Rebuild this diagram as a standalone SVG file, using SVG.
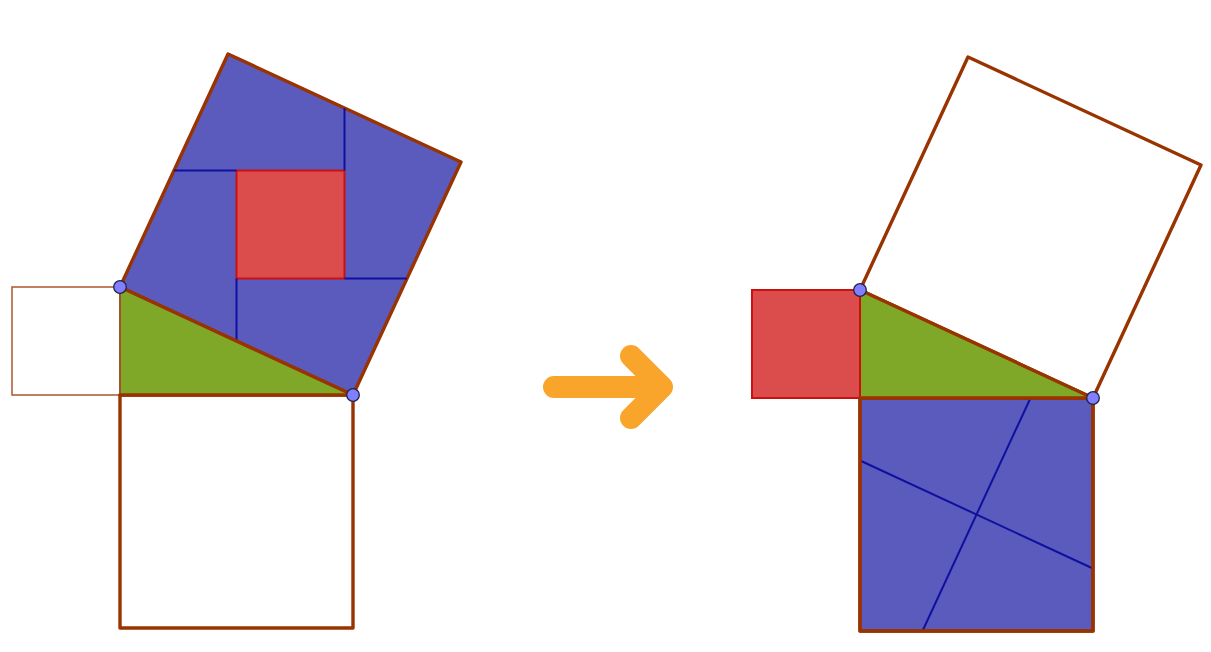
<svg xmlns="http://www.w3.org/2000/svg" width="1211" height="652" viewBox="0 0 1211 652">
<style>
.sq{stroke:#993300;stroke-width:3.4;stroke-linejoin:round}
.thin{fill:none;stroke:#B0603A;stroke-width:1.6}
.blue{fill:#5B5BBD}
.white{fill:#FFFFFF}
.red{fill:#DB4D4D;stroke:#CC1010;stroke-width:2}
.tri{fill:#7FA828;stroke:none}
.edge{stroke:#993300;stroke-width:3.4;stroke-linecap:round;fill:none}
.cut{stroke:#1010A0;stroke-width:2;fill:none}
.pt{fill:#7F7FFF;stroke:#222244;stroke-width:1.3}
.arrow{fill:none;stroke:#F9A52C;stroke-width:22;stroke-linecap:round;stroke-linejoin:round}
</style>
<rect width="1211" height="652" fill="#FFFFFF"/>

<g id="left-figure">
  <g id="left-small-square"><rect class="thin" x="12" y="287" width="108" height="108"/></g>
  <g id="left-bottom-square"><rect class="sq white" x="120" y="395" width="233" height="233"/></g>
  <g id="left-hyp-square">
    <polygon class="sq blue" points="120,287 228,54 461,162 353,395"/>
    <rect class="red" x="236.5" y="170.5" width="108" height="108"/>
    <g class="cut">
      <line x1="174" y1="170.5" x2="236.5" y2="170.5"/>
      <line x1="344.5" y1="108" x2="344.5" y2="170.5"/>
      <line x1="344.5" y1="278.5" x2="407" y2="278.5"/>
      <line x1="236.5" y1="278.5" x2="236.5" y2="341"/>
    </g>
  </g>
  <g id="left-triangle">
    <polygon class="tri" points="120,287 120,395 353,395"/>
    <line x1="120" y1="287" x2="120" y2="395" stroke="#A0522D" stroke-width="2"/>
    <line class="edge" x1="120" y1="395" x2="353" y2="395"/>
    <line class="edge" x1="120" y1="287" x2="353" y2="395"/>
  </g>
  <g id="left-points">
    <circle class="pt" cx="120" cy="287" r="6.3"/>
    <circle class="pt" cx="353" cy="395" r="6.3"/>
  </g>
</g>

<g id="connectors">
  <path class="arrow" d="M554 387 H660 M631 356 L662 387 L631 418"/>
</g>

<g id="right-figure">
  <g id="right-red-square"><rect class="red" x="752" y="290" width="108" height="108"/></g>
  <g id="right-hyp-square"><polygon class="sq white" points="860,290 968,57 1201,165 1093,398"/></g>
  <g id="right-bottom-square">
    <rect class="sq blue" x="860" y="398" width="233" height="233"/>
    <g class="cut">
      <line x1="860" y1="460.5" x2="1093" y2="568.5"/>
      <line x1="1030.5" y1="398" x2="922.5" y2="631"/>
    </g>
    <rect class="sq" fill="none" x="860" y="398" width="233" height="233"/>
  </g>
  <g id="right-triangle">
    <polygon class="tri" points="860,290 860,398 1093,398"/>
    <line x1="860" y1="290" x2="860" y2="398" stroke="#CC1010" stroke-width="2"/>
    <line class="edge" x1="860" y1="398" x2="1093" y2="398"/>
    <line class="edge" x1="860" y1="290" x2="1093" y2="398"/>
  </g>
  <g id="right-points">
    <circle class="pt" cx="860" cy="290" r="6.3"/>
    <circle class="pt" cx="1093" cy="398" r="6.3"/>
  </g>
</g>
</svg>
